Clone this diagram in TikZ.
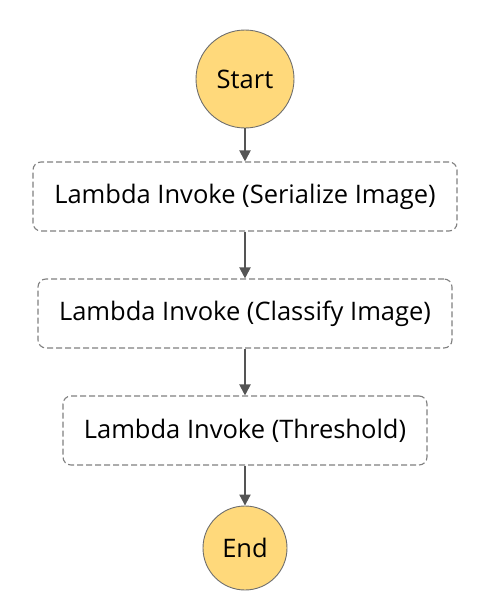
\documentclass[tikz,border=0pt]{standalone}
\usepackage{fontspec}
\setmainfont{Open Sans}
\usepackage{xcolor}
\usetikzlibrary{arrows.meta}
\definecolor{stategold}{HTML}{FFD97B}
\definecolor{ringgray}{HTML}{6E6E6E}
\definecolor{dashgray}{HTML}{808080}
\definecolor{flowgray}{HTML}{555555}

\begin{document}
\begin{tikzpicture}[x=1pt,y=-1pt]
    \tikzset{font={\fontsize{25.5pt}{30}\selectfont}}
    \tikzset{term/.style={circle,draw=ringgray,line width=.9pt,fill=stategold,inner sep=0pt},
      task/.style={draw=dashgray,line width=1.1pt,dash pattern=on 6pt off 3pt,rounded corners=8pt,minimum height=69pt,inner sep=0pt},
      flow/.style={-{Triangle[length=11pt,width=11pt]},line width=2pt,draw=flowgray}}
    \useasboundingbox (0,0) rectangle (490,592);
    \node[term,minimum size=98pt] (start) at (245,79) {Start};
    \node[task,minimum width=424pt] (serialize) at (245,196.5) {Lambda Invoke (Serialize Image)};
    \node[task,minimum width=414pt] (classify) at (245,313.5) {Lambda Invoke (Classify Image)};
    \node[task,minimum width=364pt] (threshold) at (245,430.5) {Lambda Invoke (Threshold)};
    \node[term,minimum size=84pt] (end) at (245,548) {End};
    \draw[flow] (start)--(serialize);
    \draw[flow] (serialize)--(classify);
    \draw[flow] (classify)--(threshold);
    \draw[flow] (threshold)--(end);
\end{tikzpicture}
\end{document}
